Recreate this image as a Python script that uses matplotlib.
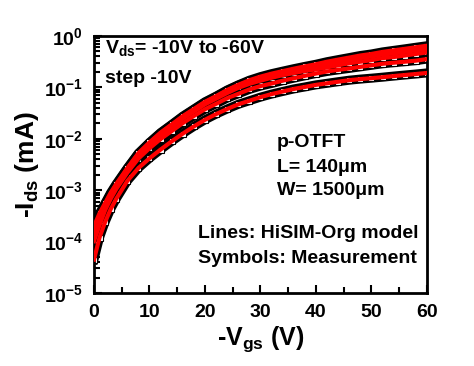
import numpy as np
import matplotlib
matplotlib.use("Agg")
import matplotlib.pyplot as plt

plt.rcParams['font.family'] = ['Liberation Sans', 'DejaVu Sans']
plt.rcParams['font.weight'] = 'bold'
plt.rcParams['mathtext.fontset'] = 'custom'
plt.rcParams['mathtext.rm'] = 'Liberation Sans:bold'
plt.rcParams['mathtext.bf'] = 'Liberation Sans:bold'
plt.rcParams['mathtext.it'] = 'Liberation Sans:bold'
plt.rcParams['mathtext.sf'] = 'Liberation Sans:bold'

# -Vgs sweep (V)
vgs = [0, 1, 2, 3, 4, 6, 8, 10, 12, 14, 16, 18, 20, 22, 24, 26, 28, 30,
       32, 34, 36, 38, 40, 42, 44, 46, 48, 50, 52, 54, 56, 58, 60]

# -Ids (mA) for Vds = -10 ... -60 V
ids_10 = [4.47e-5, 1.20e-4, 2.40e-4, 4.27e-4, 6.76e-4, 1.51e-3, 2.69e-3, 4.17e-3,
          6.17e-3, 8.91e-3, 1.26e-2, 1.74e-2, 2.34e-2, 3.02e-2, 3.80e-2, 4.68e-2,
          5.50e-2, 6.46e-2, 7.41e-2, 8.32e-2, 9.33e-2, 0.102, 0.112, 0.120, 0.129,
          0.138, 0.145, 0.151, 0.158, 0.166, 0.174, 0.182, 0.191]
ids_20 = [1.02e-4, 2.09e-4, 4.07e-4, 6.76e-4, 1.05e-3, 2.19e-3, 4.12e-3, 6.54e-3,
          9.88e-3, 1.41e-2, 2.02e-2, 2.78e-2, 3.76e-2, 4.79e-2, 6.17e-2, 7.50e-2,
          9.12e-2, 0.106, 0.119, 0.135, 0.151, 0.168, 0.186, 0.204, 0.219,
          0.234, 0.251, 0.269, 0.288, 0.302, 0.316, 0.331, 0.355]
ids_30 = [1.26e-4, 2.51e-4, 4.68e-4, 7.59e-4, 1.15e-3, 2.40e-3, 4.68e-3, 7.59e-3,
          1.17e-2, 1.70e-2, 2.46e-2, 3.39e-2, 4.68e-2, 6.03e-2, 7.77e-2, 9.77e-2,
          0.117, 0.135, 0.154, 0.173, 0.190, 0.209, 0.224, 0.245, 0.269,
          0.295, 0.316, 0.339, 0.372, 0.389, 0.417, 0.447, 0.479]
ids_40 = [1.48e-4, 2.82e-4, 5.01e-4, 7.94e-4, 1.20e-3, 2.51e-3, 4.90e-3, 7.94e-3,
          1.23e-2, 1.78e-2, 2.58e-2, 3.54e-2, 4.89e-2, 6.31e-2, 8.32e-2, 0.102,
          0.126, 0.148, 0.169, 0.191, 0.211, 0.233, 0.257, 0.282, 0.309,
          0.339, 0.372, 0.398, 0.437, 0.457, 0.490, 0.525, 0.562]
ids_50 = [1.70e-4, 3.16e-4, 5.37e-4, 8.51e-4, 1.26e-3, 2.63e-3, 5.13e-3, 8.32e-3,
          1.29e-2, 1.86e-2, 2.69e-2, 3.71e-2, 5.13e-2, 6.61e-2, 8.71e-2, 0.110,
          0.132, 0.155, 0.177, 0.199, 0.220, 0.245, 0.269, 0.302, 0.331,
          0.363, 0.398, 0.427, 0.468, 0.501, 0.537, 0.575, 0.617]
ids_60 = [2.00e-4, 3.55e-4, 5.62e-4, 8.91e-4, 1.32e-3, 2.69e-3, 5.25e-3, 8.51e-3,
          1.32e-2, 1.90e-2, 2.76e-2, 3.80e-2, 5.24e-2, 6.76e-2, 8.91e-2, 0.112,
          0.138, 0.162, 0.185, 0.207, 0.231, 0.256, 0.282, 0.316, 0.347,
          0.380, 0.417, 0.447, 0.490, 0.525, 0.562, 0.603, 0.646]

curves = [ids_10, ids_20, ids_30, ids_40, ids_50, ids_60]

fig = plt.figure(figsize=(4.74, 3.66), dpi=100)
ax = fig.add_axes([0.1983, 0.1995, 0.7025, 0.7022])

# measurement: dense open squares
for ids in curves:
    ax.plot(vgs, ids, color='k', lw=6.5, marker='s', ms=4,
            mfc='white', mec='k', mew=0.8, zorder=2)
# model: red lines
for ids in curves:
    ax.plot(vgs, ids, color='#ff0000', lw=3.0, zorder=3)

ax.set_yscale('log')
ax.set_xlim(0, 60)
ax.set_ylim(1e-5, 1e0)
ax.set_xticks([0, 10, 20, 30, 40, 50, 60])
ax.set_xticks([5, 15, 25, 35, 45, 55], minor=True)
ax.set_yticks([1e-5, 1e-4, 1e-3, 1e-2, 1e-1, 1e0])
ax.set_yticklabels([r'$10^{-5}$', r'$10^{-4}$', r'$10^{-3}$', r'$10^{-2}$',
                    r'$10^{-1}$', r'$10^{0}$'])

ax.tick_params(which='both', direction='in', top=False, right=False,
               width=1.5, labelsize=14)
ax.tick_params(which='major', length=6, pad=8)
ax.tick_params(which='minor', length=4)
for sp in ax.spines.values():
    sp.set_linewidth(2)

ax.set_xlabel(r'-V$_{gs}$ (V)', fontsize=18, fontweight='bold', labelpad=2)
ax.set_ylabel(r'-I$_{ds}$ (mA)', fontsize=19, fontweight='bold', labelpad=2)

txt = dict(transform=ax.transAxes, fontsize=14, fontweight='bold', va='baseline')
ax.text(0.033, 0.934, r'V$_{ds}$= -10V to -60V', **txt)
ax.text(0.033, 0.817, 'step -10V', **txt)
ax.text(0.55, 0.568, 'p-OTFT', **txt)
ax.text(0.55, 0.471, 'L= 140\u03bcm', **txt)
ax.text(0.55, 0.381, 'W= 1500\u03bcm', **txt)
ax.text(0.312, 0.214, 'Lines: HiSIM-Org model', **txt)
ax.text(0.312, 0.117, 'Symbols: Measurement', **txt)

fig.savefig('out.png', dpi=100)
